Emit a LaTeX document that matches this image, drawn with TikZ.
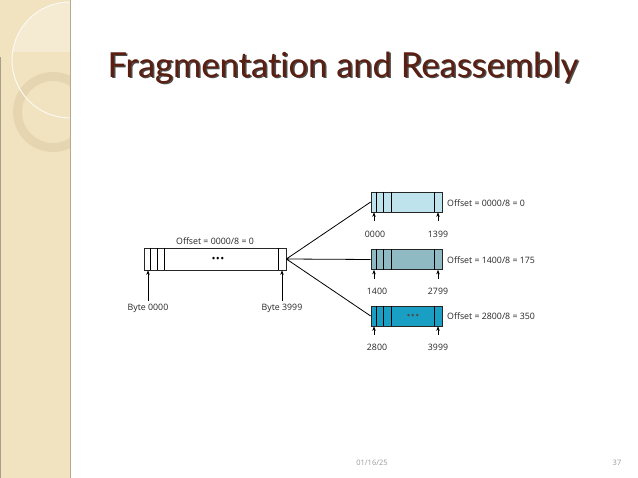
\documentclass[tikz,border=0pt]{standalone}
\usepackage{fontspec}
\setmainfont{Open Sans}
\newfontfamily\titlefont[Ligatures={NoCommon}]{Lato}
\usetikzlibrary{arrows.meta,calc}

\definecolor{panel}{HTML}{F1E3BF}
\definecolor{panelhi}{HTML}{F5EBD2}
\definecolor{ring}{HTML}{DDCEA8}
\definecolor{titlebrown}{HTML}{5B1F12}
\definecolor{fragA}{HTML}{BFE3EC}
\definecolor{fragB}{HTML}{8FB9C3}
\definecolor{fragC}{HTML}{1A9FC4}

\begin{document}
\begin{tikzpicture}[x=1pt,y=-1pt,
	box/.style={draw=black!85,line width=0.7pt,minimum height=20pt,inner sep=0pt},
	lbl/.style={font=\fontsize{8.8}{9}\selectfont,text=black!85,inner sep=0pt},
	up/.style={-{Stealth[length=4.5pt,width=3.5pt]},line width=0.6pt},
	dots/.style={font=\fontsize{8}{8}\selectfont\bfseries,inner sep=0pt},
	foot/.style={font=\fontsize{7.5}{8}\selectfont,text=black!40,inner sep=0pt}]
\useasboundingbox (0,0) rectangle (638,478);
\fill[white] (0,0) rectangle (638,478);

\fill[panel] (0,0) rectangle (70,478);
\begin{scope}
\clip (0,0) rectangle (70,478);
\begin{scope}
\clip (70,60) circle (58);
\fill[panelhi] (0,0) rectangle (70,52);
\end{scope}
\fill[ring,opacity=0.6,even odd rule] (53,112) circle (40) (53,112) circle (31);
\draw[white!80!panel,line width=1pt] (70,60) circle (58);
\end{scope}
\draw[black!25!panel,line width=0.8pt] (70,0) -- (70,478);
\draw[black!30!panel,line width=0.8pt] (0.4,57) -- (0.4,478);

\node[black!70,font=\titlefont\fontsize{34.5}{36}\selectfont] at (344.5,69) {Fragmentation and Reassembly};
\node[titlebrown,font=\titlefont\fontsize{34.5}{36}\selectfont] (T) at (343,67.5) {Fragmentation and Reassembly};

\node[box,minimum width=142pt,minimum height=22pt] (P) at (215,259) {};
\node[box,fill=fragA,minimum width=71pt] (F1) at (406.5,202) {};
\node[box,fill=fragB,minimum width=71pt] (F2) at (406.5,259.5) {};
\node[box,fill=fragC,minimum width=71pt] (F3) at (406.5,316) {};

\foreach \d in {7,14,21}
	\draw[line width=0.6pt] ($(P.north west)+(\d,0)$) -- ($(P.south west)+(\d,0)$);
\draw[line width=0.6pt] ($(P.north east)+(-8,0)$) -- ($(P.south east)+(-8,0)$);
\foreach \b in {F1,F2,F3} {
	\foreach \d in {6,13,21}
		\draw[line width=0.6pt] ($(\b.north west)+(\d,0)$) -- ($(\b.south west)+(\d,0)$);
	\draw[line width=0.6pt] ($(\b.north east)+(-8,0)$) -- ($(\b.south east)+(-8,0)$);
}
\node[dots] (D1) at (218,259) {•\,•\,•};
\node[dots,text=black!70] (D2) at (413,316) {•\,•\,•};

\draw[line width=0.8pt] (P.east) -- (F1.west)
	(P.east) -- (F2.west)
	(P.east) -- (F3.west);

\node[lbl] (O0) at (215,241) {Offset = 0000/8 = 0};
\node[lbl,anchor=west] (O1) at (447,203) {Offset = 0000/8 = 0};
\node[lbl,anchor=west] (O2) at (447,260) {Offset = 1400/8 = 175};
\node[lbl,anchor=west] (O3) at (447,316) {Offset = 2800/8 = 350};

\coordinate (a0) at (148,301);
\coordinate (a1) at (282,301);
\coordinate (b0) at (374,221);
\coordinate (b1) at (438,221);
\coordinate (c0) at (374,279);
\coordinate (c1) at (438,279);
\coordinate (d0) at (374,335);
\coordinate (d1) at (438,335);

\draw[up] (a0) -- (a0 |- P.south);
\draw[up] (a1) -- (a1 |- P.south);
\draw[up] (b0) -- (b0 |- F1.south);
\draw[up] (b1) -- (b1 |- F1.south);
\draw[up] (c0) -- (c0 |- F2.south);
\draw[up] (c1) -- (c1 |- F2.south);
\draw[up] (d0) -- (d0 |- F3.south);
\draw[up] (d1) -- (d1 |- F3.south);

\node[lbl] (L0) at (148,308.5) {Byte 0000};
\node[lbl] (L1) at (282,308.5) {Byte 3999};
\node[lbl] (L2) at (375,234.5) {0000};
\node[lbl] (L3) at (438,234.5) {1399};
\node[lbl] (L4) at (377,291.5) {1400};
\node[lbl] (L5) at (438,291.5) {2799};
\node[lbl] (L6) at (377,347.5) {2800};
\node[lbl] (L7) at (438,347.5) {3999};

\node[foot] (date) at (372,463) {01/16/25};
\node[foot] (page) at (617,463) {37};
\end{tikzpicture}
\end{document}
